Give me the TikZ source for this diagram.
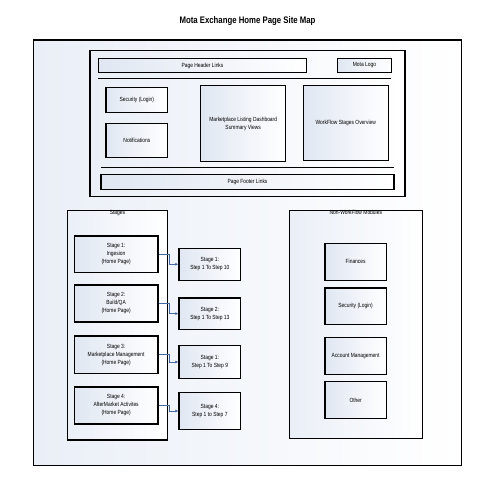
\documentclass[tikz,border=0pt]{standalone}
\usepackage{fontspec}
\setmainfont[FakeStretch=0.82]{Liberation Sans}
\usetikzlibrary{arrows.meta}
\definecolor{boxblue}{RGB}{224,231,242}
\definecolor{paleblue}{RGB}{234,239,247}
\definecolor{linkblue}{RGB}{70,105,165}
\tikzset{
  box/.style={draw=black, line width=1.3pt, left color=boxblue, right color=white,
    align=center, inner sep=1pt, font=\fontsize{6}{8}\selectfont},
  container/.style={draw=black, line width=1.2pt, left color=paleblue, right color=white},
  divider/.style={line width=1.5pt},
  link/.style={draw=linkblue, line width=0.8pt, -{Latex[length=3pt,width=3pt]}},
  caption/.style={font=\fontsize{6}{7}\selectfont, inner sep=0pt}
}
\begin{document}
\begin{tikzpicture}[x=1pt,y=-1pt]
\useasboundingbox (0,0) rectangle (495,495);
\node[font=\bfseries\fontsize{9.5}{11}\selectfont] (title) at (247.5,20.7) {Mota Exchange Home Page Site Map};
% outer frame
\node[container, line width=1.3pt, minimum width=428pt, minimum height=425.7pt] (frame) at (247.5,252.85) {};
% header area
\node[container, line width=1.4pt, minimum width=315pt, minimum height=146pt] (header) at (247.5,123.7) {};
\node[box, minimum width=208.4pt, minimum height=14.4pt] (phl) at (202.5,65.5) {Page Header Links};
\node[box, minimum width=54.4pt, minimum height=14.4pt] (logo) at (364.5,65.5) {Mota Logo};
\coordinate (d1a) at (98.3,78.3);
\coordinate (d1b) at (391,78.3);
\draw[divider] (d1a) -- (d1b);
\node[box, minimum width=61.7pt, minimum height=25.4pt] (sec) at (136.85,100) {Security (Login)};
\node[box, minimum width=61.7pt, minimum height=34pt] (notif) at (136.85,140.3) {Notifications};
\node[box, minimum width=85pt, minimum height=75.4pt] (market) at (243.2,123.5) {Marketplace Listing Dashboard\\Summary Views};
\node[box, minimum width=85pt, minimum height=75.4pt] (wf) at (345.8,123) {WorkFlow Stages Overview};
\coordinate (d2a) at (101,167.3);
\coordinate (d2b) at (394,167.3);
\draw[divider] (d2a) -- (d2b);
\node[box, minimum width=293pt, minimum height=15pt] (footer) at (247.5,181.8) {Page Footer Links};
% stages
\node[container, minimum width=100.4pt, minimum height=229.3pt] (stages) at (117.5,325.35) {};
\node[caption, anchor=north] (stageslbl) at (stages.north) {Stages};
\node[box, minimum width=83.7pt, minimum height=36.7pt] (s1) at (116.15,254.35) {Stage 1:\\Ingesion\\(Home Page)};
\node[box, minimum width=83.7pt, minimum height=37pt] (s2) at (116.15,303.5) {Stage 2:\\Build/QA\\(Home Page)};
\node[box, minimum width=83.7pt, minimum height=37.3pt] (s3) at (116.15,354.65) {Stage 3:\\Marketplace Management\\(Home Page)};
\node[box, minimum width=83.7pt, minimum height=37pt] (s4) at (116.15,405.5) {Stage 4:\\AfterMarket Activites\\(Home Page)};
\node[box, minimum width=61.7pt, minimum height=32pt] (r1) at (209.85,264.3) {Stage 1:\\Step 1 To Step 10};
\node[box, minimum width=61.7pt, minimum height=31.3pt] (r2) at (209.85,313.65) {Stage 2:\\Step 1 To Step 13};
\node[box, minimum width=61.7pt, minimum height=33.4pt] (r3) at (209.85,362) {Stage 1:\\Step 1 To Step 9};
\node[box, minimum width=61.7pt, minimum height=36.6pt] (r4) at (209.85,411) {Stage 4:\\Step 1 to Step 7};
\foreach \i in {1,2,3,4}{
  \draw[link] (s\i.east) -- ++(10.3,0) |- (r\i.west);
}
% non-workflow modules
\node[container, minimum width=133pt, minimum height=228pt] (nwf) at (355.8,324.7) {};
\node[caption, anchor=north] (nwflbl) at (nwf.north) {Non-WorkFlow Modules};
\node[box, minimum width=61.3pt, minimum height=37pt] (fin) at (355.65,261.8) {Finances};
\node[box, minimum width=61.3pt, minimum height=36.7pt] (sec2) at (355.65,306.35) {Security (Login)};
\node[box, minimum width=61.3pt, minimum height=37pt] (acct) at (355.65,356.2) {Account Management};
\node[box, minimum width=61.3pt, minimum height=36.6pt] (other) at (355.65,400) {Other};
\end{tikzpicture}
\end{document}
